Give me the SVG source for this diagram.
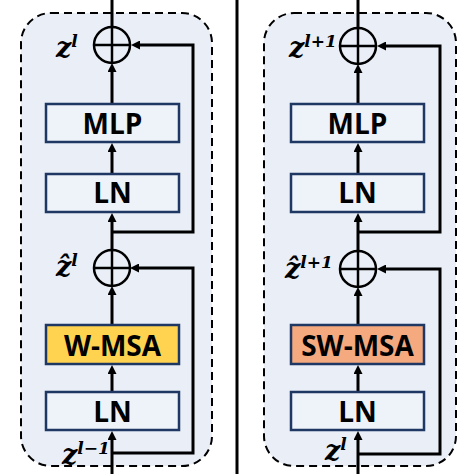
<svg xmlns="http://www.w3.org/2000/svg" width="474" height="474" viewBox="0 0 474 474">
<defs>
<style>
.panel{fill:#E9EEF7;stroke:#000;stroke-width:2;stroke-dasharray:8 5}
.box{fill:#EEF2F9;stroke:#1F3763;stroke-width:2.5}
.wmsa{fill:#FFD34F}
.swmsa{fill:#F4A97E}
.lbl{font-family:"Open Sans","Liberation Sans",sans-serif;font-weight:700;font-size:28px;fill:#000;text-anchor:middle}
.math{font-family:"DejaVu Serif","Liberation Serif",serif;font-weight:700;font-style:italic;font-size:27px;fill:#000}
.sup{font-size:17px}
.ln{fill:none;stroke:#000;stroke-width:3}
.arr{fill:none;stroke:#000;stroke-width:3;marker-end:url(#ah)}
.plus{fill:none;stroke:#000;stroke-width:2.5}
</style>
<marker id="ah" viewBox="0 0 9 9" refX="3" refY="4.5" markerWidth="9" markerHeight="9" markerUnits="userSpaceOnUse" orient="auto">
<path d="M0,0 L9,4.5 L0,9 z" fill="#000"/>
</marker>
</defs>
<rect width="474" height="474" fill="#fff"/>
<g id="panel-left"><rect class="panel" x="21" y="13" width="191" height="453" rx="30"/></g>
<g id="panel-right"><rect class="panel" x="264" y="13" width="192" height="453" rx="30"/></g>
<g id="separator"><line x1="237" y1="0" x2="237" y2="474" stroke="#000" stroke-width="3"/></g>

<g id="connectors">
<line class="ln" x1="112" y1="0" x2="112" y2="27"/>
<line class="arr" x1="112" y1="104" x2="112" y2="69"/>
<line class="arr" x1="112" y1="174" x2="112" y2="149"/>
<line class="arr" x1="112" y1="250" x2="112" y2="219"/>
<line class="arr" x1="112" y1="325" x2="112" y2="292"/>
<line class="arr" x1="112" y1="392" x2="112" y2="371"/>
<line class="arr" x1="112" y1="474" x2="112" y2="437"/>
<polyline class="arr" points="112,232 193,232 193,45 137,45"/>
<polyline class="arr" points="112,453 193,453 193,268 136,268"/>

<line class="ln" x1="358" y1="0" x2="358" y2="28"/>
<line class="arr" x1="358" y1="104" x2="358" y2="70"/>
<line class="arr" x1="358" y1="174" x2="358" y2="149"/>
<line class="arr" x1="358" y1="251" x2="358" y2="219"/>
<line class="arr" x1="358" y1="325" x2="358" y2="293"/>
<line class="arr" x1="358" y1="392" x2="358" y2="371"/>
<line class="arr" x1="358" y1="474" x2="358" y2="437"/>
<polyline class="arr" points="358,232 440,232 440,46 383,46"/>
<polyline class="arr" points="358,454 440,454 440,269 383,269"/>
</g>

<g id="add1-left"><circle class="plus" cx="112" cy="45" r="18"/><line class="plus" x1="94" y1="45" x2="130" y2="45"/><line class="plus" x1="112" y1="27" x2="112" y2="63"/></g>
<g id="add2-left"><circle class="plus" cx="112" cy="268" r="18"/><line class="plus" x1="94" y1="268" x2="130" y2="268"/><line class="plus" x1="112" y1="250" x2="112" y2="286"/></g>
<g id="add1-right"><circle class="plus" cx="358" cy="46" r="18"/><line class="plus" x1="340" y1="46" x2="376" y2="46"/><line class="plus" x1="358" y1="28" x2="358" y2="64"/></g>
<g id="add2-right"><circle class="plus" cx="358" cy="269" r="18"/><line class="plus" x1="340" y1="269" x2="376" y2="269"/><line class="plus" x1="358" y1="251" x2="358" y2="287"/></g>

<g id="mlp-left"><rect class="box" x="46" y="104" width="133" height="38"/><text class="lbl" x="112.5" y="134">MLP</text></g>
<g id="ln2-left"><rect class="box" x="46" y="174" width="133" height="38"/><text class="lbl" x="112.5" y="203">LN</text></g>
<g id="wmsa-left"><rect class="box wmsa" x="46" y="325" width="133" height="39"/><text class="lbl" x="112.5" y="356">W-MSA</text></g>
<g id="ln1-left"><rect class="box" x="46" y="392" width="133" height="38"/><text class="lbl" x="112.5" y="422">LN</text></g>

<g id="mlp-right"><rect class="box" x="291" y="104" width="133" height="38"/><text class="lbl" x="357.5" y="134">MLP</text></g>
<g id="ln2-right"><rect class="box" x="291" y="174" width="133" height="38"/><text class="lbl" x="357.5" y="203">LN</text></g>
<g id="swmsa-right"><rect class="box swmsa" x="291" y="325" width="133" height="39"/><text class="lbl" x="357.5" y="356">SW-MSA</text></g>
<g id="ln1-right"><rect class="box" x="291" y="392" width="133" height="38"/><text class="lbl" x="357.5" y="422">LN</text></g>

<g id="labels">
<text class="math" x="56" y="57">z<tspan class="sup" dy="-10">l</tspan></text>
<text class="math" x="56" y="276">ẑ<tspan class="sup" dy="-10">l</tspan></text>
<text class="math" x="62" y="464">z<tspan class="sup" dy="-10">l−1</tspan></text>
<text class="math" x="289" y="57">z<tspan class="sup" dy="-10">l+1</tspan></text>
<text class="math" x="285" y="278">ẑ<tspan class="sup" dy="-10">l+1</tspan></text>
<text class="math" x="325" y="460">z<tspan class="sup" dy="-10">l</tspan></text>
</g>
</svg>
